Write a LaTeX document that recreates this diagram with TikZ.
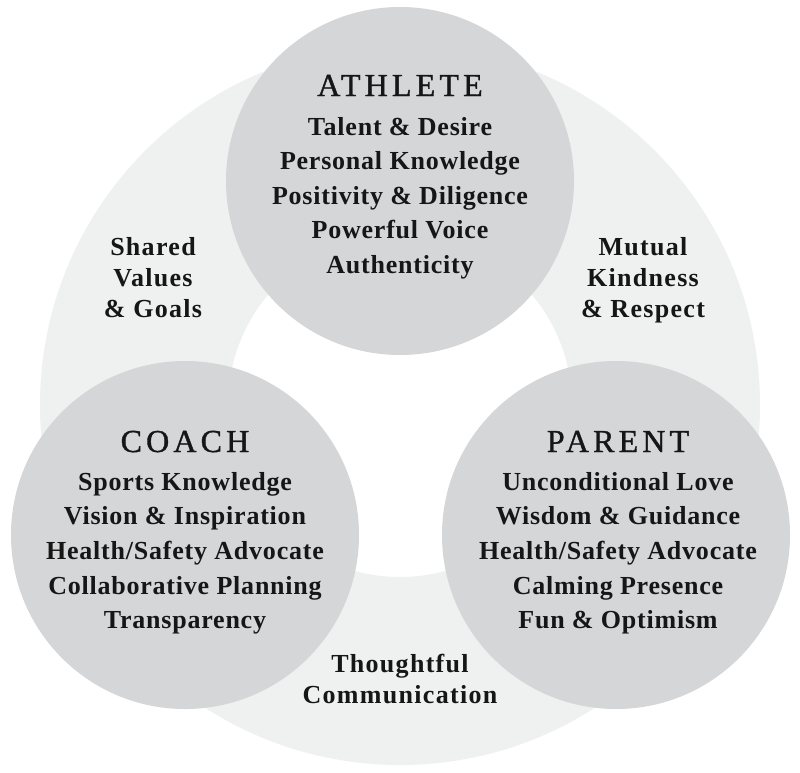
\documentclass[tikz,border=0pt]{standalone}
\usepackage{fontspec}
\setmainfont{Liberation Serif}
\newfontfamily\itemfont[LetterSpace=3]{Liberation Serif}
\newfontfamily\midfont[LetterSpace=5]{Liberation Serif}
\newfontfamily\titlefont[LetterSpace=13,FakeBold=1.2]{Liberation Serif}
\definecolor{ringgray}{RGB}{239,240,240}
\definecolor{circgray}{RGB}{213,214,216}
\definecolor{ink}{RGB}{22,22,22}
\tikzset{
  bigcircle/.style={circle, fill=circgray, draw=none, minimum size=348pt, inner sep=0pt},
  titletext/.style={anchor=base, inner sep=0pt, text=ink, font=\titlefont\fontsize{32}{32}\selectfont},
  itemtext/.style={anchor=base, inner sep=0pt, text=ink, font=\itemfont\bfseries\fontsize{26}{26}\selectfont},
  midtext/.style={anchor=base, inner sep=0pt, text=ink, font=\midfont\bfseries\fontsize{26}{26}\selectfont},
}
\begin{document}
\begin{tikzpicture}[x=1pt,y=-1pt]
\useasboundingbox (0,0) rectangle (800,772);
\fill[white] (0,0) rectangle (800,772);
% ring
\fill[ringgray, even odd rule] (400,405) circle[radius=360pt] (400,405) circle[radius=172pt];
% circles
\node[bigcircle] (athlete) at (400,181) {};
\node[bigcircle] (coach) at (185,535) {};
\node[bigcircle] (parent) at (616,535) {};
% athlete
\node[titletext] (athleteT) at (400,96) {ATHLETE};
\foreach \t [count=\i] in {Talent \& Desire, Personal Knowledge, Positivity \& Diligence, Powerful Voice, Authenticity}
  \node[itemtext, name=ath\i] at (400,135+34.6*\i-34.6) {\t};
% coach
\node[titletext] (coachT) at (185,452) {COACH};
\foreach \t [count=\i] in {Sports Knowledge, Vision \& Inspiration, Health/Safety Advocate, Collaborative Planning, Transparency}
  \node[itemtext, name=coa\i] at (185,490+34.7*\i-34.7) {\t};
% parent
\node[titletext] (parentT) at (618,452) {PARENT};
\foreach \t [count=\i] in {Unconditional Love, Wisdom \& Guidance, Health/Safety Advocate, Calming Presence, Fun \& Optimism}
  \node[itemtext, name=par\i] at (618,490+34.7*\i-34.7) {\t};
% relation labels
\foreach \t [count=\i] in {Shared, Values, \& Goals}
  \node[midtext, name=sh\i] at (153,255+31*\i-31) {\t};
\foreach \t [count=\i] in {Mutual, Kindness, \& Respect}
  \node[midtext, name=mu\i] at (643,255+31*\i-31) {\t};
\foreach \t [count=\i] in {Thoughtful, Communication}
  \node[midtext, name=th\i] at (400,672+31*\i-31) {\t};
\end{tikzpicture}
\end{document}
